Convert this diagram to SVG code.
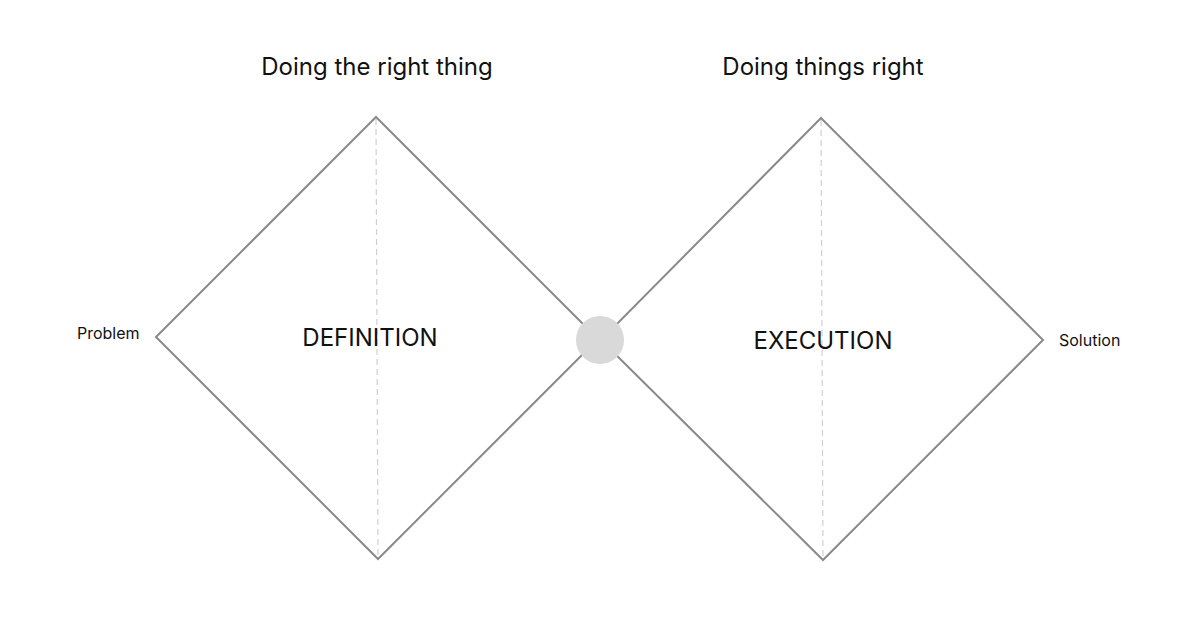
<svg xmlns="http://www.w3.org/2000/svg" width="1200" height="619" viewBox="0 0 1200 619">
<style>
.d{fill:none;stroke:#8a8a8a;stroke-width:2}
.v{stroke:#d0d0d0;stroke-width:1.2;stroke-dasharray:6 4}
text{font-family:Inter,"Noto Sans",sans-serif;fill:#111}
.h{font-size:24px;text-anchor:middle}
.s{font-size:16px}
</style>
<rect width="1200" height="619" fill="#fff"/>
<g id="connectors">
<line class="v" x1="376" y1="119" x2="378" y2="557"/>
<line class="v" x1="821" y1="120" x2="823" y2="558"/>
</g>
<g id="definition">
<polygon class="d" points="376,117 598,339 378,559 156,337"/>
<text class="h" x="370" y="346">DEFINITION</text>
</g>
<g id="execution">
<polygon class="d" points="821,118 1043,340 823,560 601,340"/>
<text class="h" x="823" y="349">EXECUTION</text>
</g>
<g id="center"><circle cx="600" cy="340" r="24" fill="#d9d9d9"/></g>
<g id="labels">
<text class="h" x="377" y="75">Doing the right thing</text>
<text class="h" x="823" y="75">Doing things right</text>
<text class="s" x="77" y="339">Problem</text>
<text class="s" x="1059" y="346">Solution</text>
</g>
</svg>
